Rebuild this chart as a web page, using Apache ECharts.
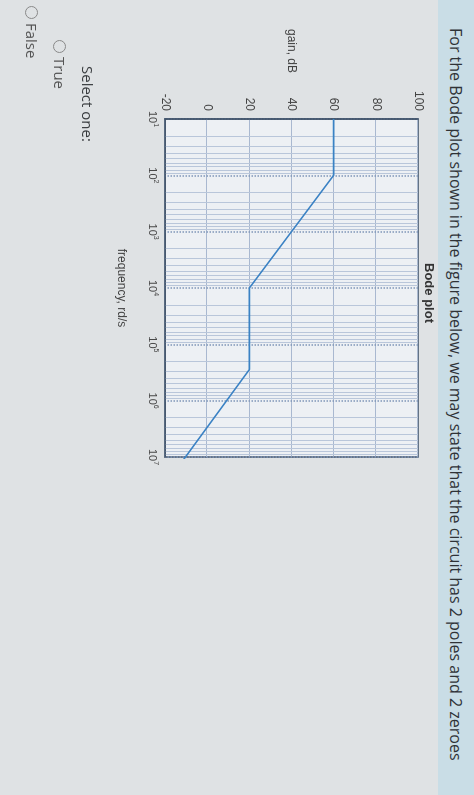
<!DOCTYPE html>
<html>
<head>
<meta charset="utf-8">
<script src="https://cdn.jsdelivr.net/npm/echarts@6/dist/echarts.min.js"></script>
<style>
  body { margin: 0; background: #d9dde0; overflow: hidden; }
  #page { position: absolute; left: 0; top: 0; width: 795px; height: 474px;
          transform-origin: 0 0; transform: translate(474px, 0) rotate(90deg);
          background: #dfe2e4; font-family: "Open Sans", sans-serif; color: #3a3d40; }
  #band { position: absolute; left: 0; top: 0; width: 795px; height: 36px; background: #c9dde6; }
  #q { position: absolute; left: 28px; top: 7px; font-size: 16px; white-space: nowrap; color: #2f3236; }
  #chart { position: absolute; left: 0; top: 0; width: 795px; height: 474px; }
  .opt { position: absolute; font-size: 15px; color: #555; }
  .opt span { display: inline-block; width: 11px; height: 11px; border: 1px solid #888; border-radius: 50%; margin-right: 4px; vertical-align: -1px; }
</style>
</head>
<body>
<div id="page">
  <div id="band"></div>
  <div id="q">For the Bode plot shown in the figure below, we may state that the circuit has 2 poles and 2 zeroes</div>
  <div id="chart"></div>
  <div class="opt" style="left:66px;top:376px;color:#3a3d40">Select one:</div>
  <div class="opt" style="left:40px;top:404px"><span></span>True</div>
  <div class="opt" style="left:6px;top:432px"><span></span>False</div>
</div>
<script>
var freq = [10, 100, 10000, 280000, 31600000];
var gain = [60, 60, 20, 20, -20];
var gainTicks = [-20, 0, 20, 40, 60, 80, 100];

var myChart = echarts.init(document.getElementById('chart'));
var pts = freq.map(function (f, i) { return [f, gain[i]]; });
var option = {
    backgroundColor: 'transparent',
    title: {
        text: 'Bode plot',
        left: 288, top: 34, textAlign: 'center',
        textStyle: { fontSize: 13, fontWeight: 'bold', color: '#333', fontFamily: 'Liberation Sans' }
    },
    grid: {
        left: 119, top: 56, width: 338, height: 253,
        show: true, backgroundColor: '#edf0f4', borderColor: '#3d4f66', borderWidth: 1.5
    },
    xAxis: {
        type: 'log',
        logBase: 10,
        min: 10,
        max: 10000000,
        name: 'frequency, rd/s',
        nameLocation: 'middle',
        nameGap: 38,
        nameTextStyle: { fontSize: 12, color: '#444', fontFamily: 'Liberation Sans' },
        axisLine: { onZero: false, lineStyle: { color: '#3d4f66', width: 1.5 } },
        axisTick: { show: false },
        axisLabel: {
            margin: 6,
            formatter: function (v) {
                return '{b|10}{s|' + Math.round(Math.log10(v)) + '}';
            },
            rich: {
                b: { fontSize: 11, color: '#444', fontFamily: 'Liberation Sans' },
                s: { fontSize: 7, color: '#444', verticalAlign: 'top', padding: [0, 0, 6, 0] }
            }
        },
        splitLine: { show: true, lineStyle: { color: '#7f95b8', type: 'dotted', width: 1.5 } },
        minorTick: { show: false, splitNumber: 9 },
        minorSplitLine: { show: true, lineStyle: { color: '#b9c6da', width: 1 } }
    },
    yAxis: {
        type: 'value',
        min: gainTicks[0],
        max: gainTicks[gainTicks.length - 1],
        interval: 20,
        name: 'gain, dB',
        nameLocation: 'middle',
        nameRotate: 0,
        nameGap: 46,
        nameTextStyle: { fontSize: 12, color: '#444', fontFamily: 'Liberation Sans' },
        axisLine: { show: true, lineStyle: { color: '#3d4f66', width: 1.5 } },
        axisTick: { show: false },
        axisLabel: { fontSize: 12, color: '#444', fontFamily: 'Liberation Sans' },
        splitLine: { show: true, lineStyle: { color: '#a9b8d0', width: 1 } }
    },
    series: [{
        type: 'line',
        data: pts,
        clip: false,
        symbol: 'none',
        lineStyle: { color: '#3b82c4', width: 1.6 }
    }]
};
myChart.setOption(option, true);
</script>
</body>
</html>
